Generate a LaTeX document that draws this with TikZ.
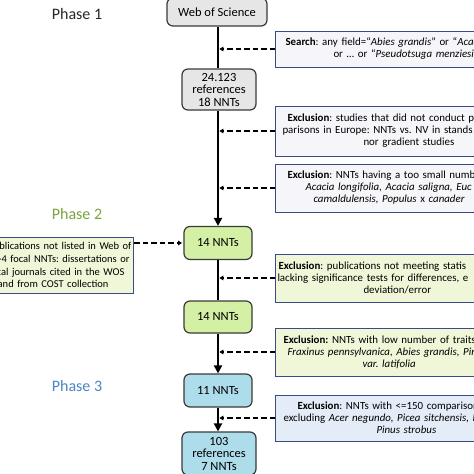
\documentclass[tikz,border=0pt]{standalone}
\usepackage{fontspec}
\setmainfont{Carlito}
\usetikzlibrary{arrows.meta}
\definecolor{grayfill}{HTML}{E6E6E6}
\definecolor{nodeborder}{HTML}{3A3A3A}
\definecolor{greenfill}{HTML}{D3F0A4}
\definecolor{bluefill}{HTML}{ADDCEB}
\definecolor{boxborder}{HTML}{3B4A8A}
\definecolor{palegray}{HTML}{F6F6FA}
\definecolor{palegreen}{HTML}{EFF7D8}
\definecolor{paleblue}{HTML}{E4ECF8}
\definecolor{phasetwo}{HTML}{78A63C}
\definecolor{phasethree}{HTML}{4A86C5}
\newcommand{\padx}[1]{\rule{#1}{0pt}}
\frenchspacing
\tikzset{
  mainnode/.style={draw=nodeborder, line width=1.2pt, rounded corners=6pt,
    font=\fontsize{12.5}{12.5}\selectfont, align=center, inner sep=0pt},
  graynode/.style={mainnode, fill=grayfill},
  greennode/.style={mainnode, fill=greenfill, minimum width=68, minimum height=33},
  bluenode/.style={mainnode, fill=bluefill},
  rbox/.style={draw=boxborder, line width=1pt, text width=300, align=left,
    inner sep=0pt, anchor=west, font=\fontsize{10.9}{12}\selectfont},
  lbox/.style={draw=boxborder, line width=1pt, fill=palegreen, text width=300, align=right,
    inner sep=0pt, anchor=east, font=\fontsize{10.5}{12.8}\selectfont},
  phase/.style={font=\fontsize{16}{16}\selectfont, inner sep=0pt},
  flowline/.style={line width=2.6pt, black},
  flowarrow/.style={flowline, -{Triangle[length=8pt,width=8pt]}},
  dasharrow/.style={line width=1.8pt, dash pattern=on 5.5pt off 3pt,
    -{Triangle[length=4pt,width=4.5pt]}, shorten >=1.3pt}
}
\begin{document}
\begin{tikzpicture}[x=1pt, y=-1pt]
\useasboundingbox (0,0) rectangle (474,474);
\fill[white] (0,0) rectangle (474,474);
\clip (0,0) rectangle (474,474);

% phase labels
\node[phase, text=black!85] (p1) at (77,14) {Phase 1};
\node[phase, text=phasetwo] (p2) at (77,214) {Phase 2};
\node[phase, text=phasethree] (p3) at (77,386) {Phase 3};

% main column
\node[graynode, minimum width=100, minimum height=28] (wos) at (217,12) {Web of Science};
\node[graynode, minimum width=74, minimum height=41] (r24) at (219,89.5) {24.123\\references\\18 NNTs};
\node[greennode] (n14a) at (218,243) {14 NNTs};
\node[greennode, minimum height=32] (n14b) at (218,317) {14 NNTs};
\node[bluenode, minimum width=68, minimum height=33] (n11) at (218,390.5) {11 NNTs};
\node[bluenode, minimum width=74, minimum height=43] (r103) at (219,453.5) {103\\references\\7 NNTs};

\draw[flowline] (wos.south -| 218,0) -- (r24.north -| 218,0);
\draw[flowarrow] (r24.south -| 218,0) -- (n14a.north);
\draw[flowline] (n14a.south) -- (n14b.north);
\draw[flowarrow] (n14b.south) -- (n11.north);
\draw[flowarrow] (n11.south) -- (r103.north -| 218,0);

% right boxes
\node[rbox, fill=palegray, minimum height=36] (s0) at (275,49)
  {\padx{10pt}\textbf{Search}: any field=“\textit{Abies grandis}” or “\textit{Acac}\\
   \padx{58pt}or … or “\textit{Pseudotsuga menziesii}};
\node[rbox, fill=palegray, minimum height=50] (e1) at (275,131)
  {\padx{12pt}\textbf{Exclusion}: studies that did not conduct pa\\
   \padx{7pt}parisons in Europe: NNTs vs. NV in stands o\\
   \padx{88pt}nor gradient studies};
\node[rbox, fill=palegray, minimum height=48] (e2) at (275,188)
  {\padx{12pt}\textbf{Exclusion}: NNTs having a too small numbe\\
   \padx{30pt}\textit{Acacia longifolia, Acacia saligna, Euc}\\
   \padx{38pt}\textit{camaldulensis, Populus} x \textit{canader}};
\node[rbox, fill=palegreen, minimum height=48] (e3) at (275,278)
  {\padx{3pt}\textbf{Exclusion}: publications not meeting statis\\
   \padx{2pt}lacking significance tests for differences, e\\
   \padx{88pt}deviation/error};
\node[rbox, fill=palegreen, minimum height=48] (e4) at (275,352)
  {\padx{8pt}\textbf{Exclusion:} NNTs with low number of traits/\\
   \padx{12pt}\textit{Fraxinus pennsylvanica, Abies grandis, Pin}\\
   \padx{87pt}\textit{var. latifolia}};
\node[rbox, fill=paleblue, minimum height=46] (e5) at (275,418)
  {\padx{22pt}\textbf{Exclusion}: NNTs with <=150 comparison\\
   \padx{8pt}excluding \textit{Acer negundo, Picea sitchensis, P}\\
   \padx{101pt}\textit{Pinus strobus}};

\foreach \b in {s0,e1,e2,e3,e4,e5}
  \draw[dasharrow] (\b.west) -- (\b.west -| 218,0);

% left box
\node[lbox, minimum height=56] (lb) at (134,265)
  {blications not listed in Web of\padx{2pt}\\
   -4 focal NNTs: dissertations or\padx{4pt}\\
   cal journals cited in the WOS\padx{9pt}\\
   and from COST collection\padx{25pt}};
\draw[dasharrow] (lb.east |- n14a.west) -- (n14a.west);
\end{tikzpicture}
\end{document}
